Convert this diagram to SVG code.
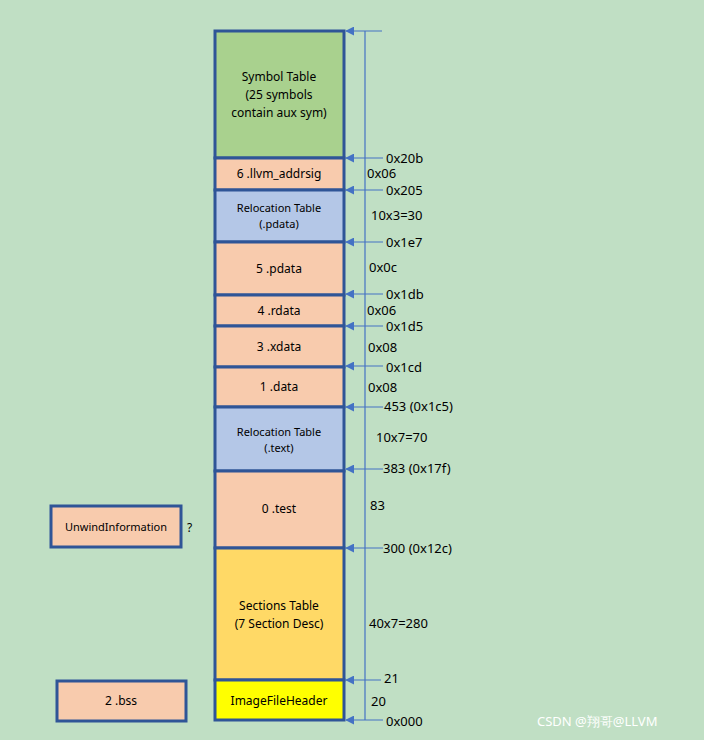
<svg xmlns="http://www.w3.org/2000/svg" width="704" height="740" viewBox="0 0 704 740">
<defs><marker id="a" viewBox="0 0 10 10" refX="9" refY="5" markerWidth="9" markerHeight="9" markerUnits="userSpaceOnUse" orient="auto"><path d="M0,0L10,5L0,10z" fill="#4472c4"/></marker></defs>
<style>
.b{stroke:#2f5597;stroke-width:3}
text{font-family:"Noto Sans","Liberation Sans",sans-serif;font-size:12px;fill:#000}
.s{font-size:11px}
.m{text-anchor:middle}
.c{stroke:#4472c4;stroke-width:1.2;fill:none}
#labels text{font-size:13px}
</style>
<rect width="704" height="740" fill="#c0dfc4"/>
<g id="symtab"><rect class="b" x="215" y="31" width="129" height="127" fill="#a9d18e"/><text class="m" x="279" y="81">Symbol Table</text><text class="m" x="279" y="99">(25 symbols</text><text class="m" x="279" y="117">contain aux sym)</text></g>
<g id="addrsig"><rect class="b" x="215" y="158" width="129" height="32" fill="#f8cbad"/><text class="m" x="279" y="178">6 .llvm_addrsig</text></g>
<g id="relpdata"><rect class="b" x="215" y="190" width="129" height="52" fill="#b4c7e7"/><text class="m s" x="279" y="212">Relocation Table</text><text class="m s" x="279" y="228">(.pdata)</text></g>
<g id="pdata"><rect class="b" x="215" y="242" width="129" height="53" fill="#f8cbad"/><text class="m" x="279" y="273">5 .pdata</text></g>
<g id="rdata"><rect class="b" x="215" y="295" width="129" height="31" fill="#f8cbad"/><text class="m" x="279" y="315">4 .rdata</text></g>
<g id="xdata"><rect class="b" x="215" y="326" width="129" height="41" fill="#f8cbad"/><text class="m" x="279" y="351">3 .xdata</text></g>
<g id="data"><rect class="b" x="215" y="367" width="129" height="40" fill="#f8cbad"/><text class="m" x="279" y="391">1 .data</text></g>
<g id="reltext"><rect class="b" x="215" y="407" width="129" height="64" fill="#b4c7e7"/><text class="m s" x="279" y="436">Relocation Table</text><text class="m s" x="279" y="452">(.text)</text></g>
<g id="test"><rect class="b" x="215" y="471" width="129" height="77" fill="#f8cbad"/><text class="m" x="279" y="513">0 .test</text></g>
<g id="sections"><rect class="b" x="215" y="548" width="129" height="132" fill="#ffd966"/><text class="m" x="279" y="610">Sections Table</text><text class="m" x="279" y="628">(7 Section Desc)</text></g>
<g id="header"><rect class="b" x="215" y="680" width="129" height="40" fill="#ffff00"/><text class="m" x="279" y="705">ImageFileHeader</text></g>
<g id="unwind"><rect class="b" x="51" y="506" width="130" height="41" fill="#f8cbad"/><text class="m s" x="116" y="531">UnwindInformation</text></g>
<text x="187" y="532">?</text>
<g id="bss"><rect class="b" x="57" y="681" width="129" height="40" fill="#f8cbad"/><text class="m" x="121" y="705">2 .bss</text></g>
<g id="connectors">
<line class="c" x1="365" y1="31" x2="365" y2="720"/>
<g marker-end="url(#a)">
<line class="c" x1="382" y1="31" x2="346" y2="31"/>
<line class="c" x1="383" y1="158" x2="346" y2="158"/>
<line class="c" x1="383" y1="190" x2="346" y2="190"/>
<line class="c" x1="383" y1="242" x2="346" y2="242"/>
<line class="c" x1="383" y1="294" x2="346" y2="294"/>
<line class="c" x1="383" y1="326" x2="346" y2="326"/>
<line class="c" x1="383" y1="366" x2="346" y2="366"/>
<line class="c" x1="383" y1="407" x2="346" y2="407"/>
<line class="c" x1="383" y1="469" x2="346" y2="469"/>
<line class="c" x1="383" y1="548" x2="346" y2="548"/>
<line class="c" x1="381" y1="680" x2="346" y2="680"/>
<line class="c" x1="383" y1="720" x2="346" y2="720"/>
</g>
</g>
<g id="labels">
<text x="386" y="163">0x20b</text><text x="367" y="178">0x06</text><text x="386" y="195">0x205</text>
<text x="371" y="220">10x3=30</text><text x="386" y="247">0x1e7</text><text x="369" y="272">0x0c</text>
<text x="386" y="299">0x1db</text><text x="367" y="315">0x06</text><text x="386" y="331">0x1d5</text>
<text x="368" y="352">0x08</text><text x="386" y="372">0x1cd</text><text x="368" y="392">0x08</text>
<text x="384" y="411">453 (0x1c5)</text><text x="376" y="442">10x7=70</text><text x="383" y="473">383 (0x17f)</text>
<text x="370" y="510">83</text><text x="383" y="553">300 (0x12c)</text><text x="369" y="628">40x7=280</text>
<text x="384" y="683">21</text><text x="371" y="706">20</text><text x="386" y="726">0x000</text>
</g>
<text x="537" y="726" style="font-size:13px;fill:#ffffff">CSDN @翔哥@LLVM</text>
</svg>
